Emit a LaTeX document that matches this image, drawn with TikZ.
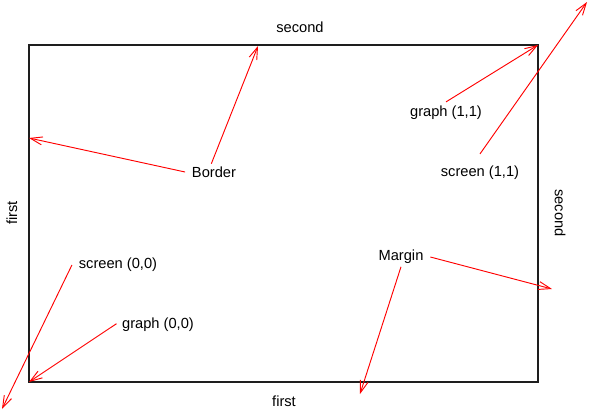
\documentclass[tikz,border=0pt]{standalone}
\usepackage{fontspec}
\setmainfont{Liberation Sans}
\usetikzlibrary{arrows.meta, positioning}
\definecolor{arrowred}{RGB}{255,0,0}
\definecolor{framegray}{RGB}{30,30,30}

\begin{document}
\begin{tikzpicture}[x=0.75pt, y=-0.75pt,
    lbl/.style={font=\fontsize{11}{13}\selectfont, inner sep=2pt},
    pointer/.style={-{Straight Barb[length=9pt, width=6pt]}, arrowred, line width=0.7pt}]
    \useasboundingbox (0,0) rectangle (590,411);

    % Frame
    \draw[framegray, line width=1.1pt] (29,45) rectangle (538,382);
    \coordinate (ll) at (29,382);
    \coordinate (ur) at (538,45);
    \coordinate (scrll) at (2,409);
    \coordinate (scrur) at (587,2);

    % Axis names
    \node[lbl] (x2) at (300,27) {second};
    \node[lbl] (x1) at (284,401) {first};
    \node[lbl, rotate=90] (y1) at (12,213) {first};
    \node[lbl, rotate=-90] (y2) at (560,213) {second};

    % Labels
    \node[lbl] (border) at (214,172) {Border};
    \node[lbl] (graphur) at (446,113) {graph (1,1)};
    \node[lbl] (screenur) at (480,173) {screen (1,1)};
    \node[lbl] (screenll) at (118,265) {screen (0,0)};
    \node[lbl] (graphll) at (158,325) {graph (0,0)};
    \node[lbl] (margin) at (401,257) {Margin};

    % Border
    \draw[pointer] ([xshift=-2pt]border.north) -- (258,46);
    \draw[pointer] ([xshift=-3pt]border.west) -- (29,138);

    % graph / screen
    \draw[pointer] ([yshift=1pt]graphur.north) -- (ur);
    \draw[pointer] ([yshift=7pt]screenur.north) -- (scrur);
    \draw[pointer] ([xshift=-3pt]screenll.west) -- (scrll);
    \draw[pointer] ([xshift=-2pt, yshift=1pt]graphll.west) -- (ll);

    % Margin
    \draw[pointer] ([xshift=3pt]margin.east) -- (552,289);
    \draw[pointer] (margin.south) -- (360,394);
\end{tikzpicture}
\end{document}
